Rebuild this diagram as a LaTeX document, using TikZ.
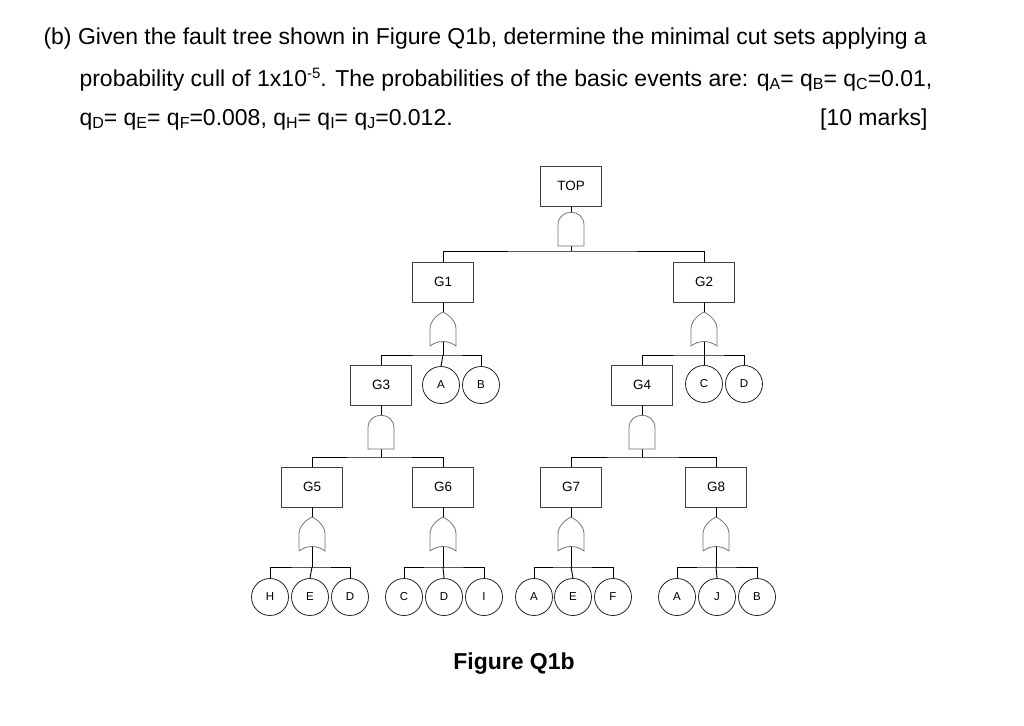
\documentclass[tikz,border=0pt]{standalone}
\usepackage{fontspec}
\setmainfont{Liberation Sans}
\begin{document}
\begin{tikzpicture}[x=1pt,y=-1pt,
 box/.style={draw=black!75,line width=0.8pt,minimum width=61pt,minimum height=40pt,inner sep=0pt,font=\fontsize{13.5}{13.5}\selectfont},
 ev/.style={draw=black!85,line width=0.8pt,circle,minimum size=37pt,inner sep=0pt,font=\fontsize{11.5}{11.5}\selectfont},
 ln/.style={line width=0.9pt,black},
 hd/.style={font=\fontsize{23}{23}\selectfont},
 gt/.style={draw=black!55,line width=0.8pt,fill=white}]
\useasboundingbox (0,0) rectangle (1024,725);
\newcommand{\andg}[2]{\draw[gt] (#1-13,#2+34) -- (#1-13,#2+13) .. controls (#1-13,#2-4) and (#1+13,#2-4) .. (#1+13,#2+13) -- (#1+13,#2+34) -- cycle;}
\newcommand{\org}[2]{\draw[gt] (#1-13,#2+34) -- (#1-13,#2+17) .. controls (#1-13,#2+9) and (#1-6,#2+3) .. (#1,#2) .. controls (#1+6,#2+3) and (#1+13,#2+9) .. (#1+13,#2+17) -- (#1+13,#2+34) .. controls (#1+5,#2+28) and (#1-5,#2+28) .. (#1-13,#2+34);}
\newcommand{\sbs}[1]{\raisebox{-0.3ex}{\fontsize{16}{16}\selectfont #1}}
% header
\node[anchor=base west,hd] (h1) at (40,45) {(b) Given the fault tree shown in Figure Q1b, determine the minimal cut sets applying a};
\node[anchor=base west,hd] (h2) at (76,86) {probability cull of 1x10\raisebox{0.6ex}{\fontsize{15}{15}\selectfont -5}. The probabilities of the basic events are: q\sbs{A}= q\sbs{B}= q\sbs{C}=0.01,};
\node[anchor=base west,hd] (h3) at (76,125) {q\sbs{D}= q\sbs{E}= q\sbs{F}=0.008, q\sbs{H}= q\sbs{I}= q\sbs{J}=0.012.};
\node[anchor=base east,hd] (h4) at (931,125) {[10 marks]};
% boxes
\node[box] (top) at (571,186) {TOP};
\node[box] (g1) at (443,282) {G1};
\node[box] (g2) at (704,282) {G2};
\node[box] (g3) at (381,385) {G3};
\node[box] (g4) at (642,385) {G4};
\node[box] (g5) at (312,487) {G5};
\node[box] (g6) at (443,487) {G6};
\node[box] (g7) at (571,487) {G7};
\node[box] (g8) at (716,487) {G8};
% events
\node[ev] (a1) at (441,385) {A};
\node[ev] (b1) at (481,385) {B};
\node[ev] (c1) at (704,384) {C};
\node[ev] (d1) at (744,384) {D};
\foreach \n/\l/\x in {h/H/270,e1/E/310,d2/D/350,c2/C/404,d3/D/444,i/I/484,a2/A/534,e2/E/573,f/F/613,a3/A/677,j/J/717,b2/B/757}
  \node[ev] (\n) at (\x,597) {\l};
% buses
\coordinate (bt) at (571,251);
\coordinate (b1c) at (443,355);
\coordinate (b2c) at (704,355);
\coordinate (b3c) at (381,457);
\coordinate (b4c) at (642,457);
\coordinate (b5c) at (312,567);
\coordinate (b6c) at (443,567);
\coordinate (b7c) at (571,567);
\coordinate (b8c) at (716,567);
\draw[ln] (top) -- (bt); \draw[ln] (g1.north) |- (bt) -| (g2.north);
\draw[ln] (g1) -- (b1c); \draw[ln] (g3.north) |- (b1c) -| (b1.north); \draw[ln] (b1c) -- (a1.north);
\draw[ln] (g2) -- (b2c); \draw[ln] (g4.north) |- (b2c) -| (d1.north); \draw[ln] (b2c) -- (c1.north);
\draw[ln] (g3) -- (b3c); \draw[ln] (g5.north) |- (b3c) -| (g6.north);
\draw[ln] (g4) -- (b4c); \draw[ln] (g7.north) |- (b4c) -| (g8.north);
\draw[ln] (g5) -- (b5c); \draw[ln] (h.north) |- (b5c) -| (d2.north); \draw[ln] (b5c) -- (e1.north);
\draw[ln] (g6) -- (b6c); \draw[ln] (c2.north) |- (b6c) -| (i.north); \draw[ln] (b6c) -- (d3.north);
\draw[ln] (g7) -- (b7c); \draw[ln] (a2.north) |- (b7c) -| (f.north); \draw[ln] (b7c) -- (e2.north);
\draw[ln] (g8) -- (b8c); \draw[ln] (a3.north) |- (b8c) -| (b2.north); \draw[ln] (b8c) -- (j.north);
% gates
\andg{571}{212}
\org{443}{312}
\org{704}{312}
\andg{381}{415}
\andg{642}{415}
\org{312}{517}
\org{443}{517}
\org{571}{517}
\org{716}{517}
\node[font=\bfseries\fontsize{23}{23}\selectfont] (cap) at (514,664) {Figure Q1b};
\end{tikzpicture}
\end{document}
